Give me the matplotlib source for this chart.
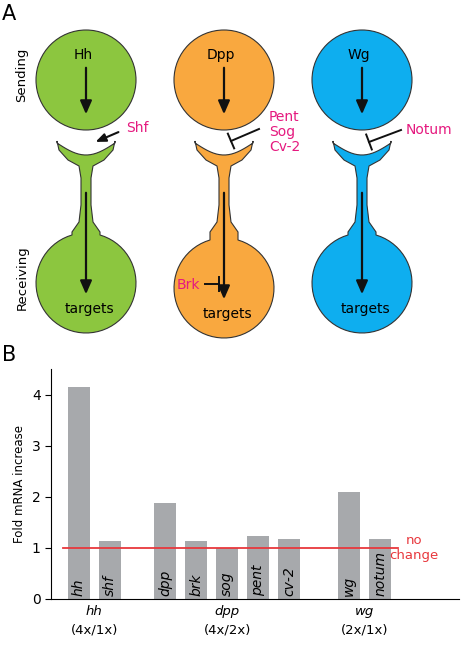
import numpy as np
import matplotlib.pyplot as plt
from matplotlib.patches import Circle, Polygon

# bar chart data
genes = ["hh", "shf", "dpp", "brk", "sog", "pent", "cv-2", "wg", "notum"]
fold = [4.14, 1.13, 1.87, 1.13, 1.0, 1.23, 1.18, 2.1, 1.17]
xpos = [0, 1, 2.8, 3.8, 4.8, 5.8, 6.8, 8.75, 9.75]
groups = ["hh\n", "dpp\n", "wg\n"]
group_dose = ["(4x/1x)", "(4x/2x)", "(2x/1x)"]
group_x = [0.5, 4.8, 9.25]

# diagram data
cells = ["Hh", "Dpp", "Wg"]
cell_x = [86, 224, 362]
bottom_y = [283, 288, 283]
colors = ["#8cc63f", "#f9a83f", "#0eaeef"]
magenta = "#e5197f"

fig = plt.figure(figsize=(4.74, 6.59), dpi=100)

# ---- panel A: drawn in pixel coordinates
ax = fig.add_axes([0, 0, 1, 1])
ax.set_xlim(0, 474)
ax.set_ylim(659, 0)
ax.axis("off")


def receiving_outline(cx, cy, r=50):
    # cup + stem + circle as one outline
    t = np.linspace(0, 1, 20)
    cup_top = np.column_stack([cx - 29 + 58 * t, 143 + 12 * np.sin(np.pi * t)])
    right = [(cx + 29, 141), (cx + 27, 150), (cx + 18, 160), (cx + 7, 166),
             (cx + 5, 178), (cx + 5, 205), (cx + 7, 222), (cx + 14, 232)]
    a0 = np.arccos(14 / r)
    ang = np.linspace(-a0, -np.pi + a0 + 2 * np.pi, 60)
    ang = np.linspace(-a0, np.pi + a0, 60)
    arc = np.column_stack([cx + r * np.cos(ang), cy - r * np.sin(ang) * -1])
    arc = np.column_stack([cx + r * np.cos(-ang + 0), cy - r * np.sin(-ang)])
    left = [(cx - 14, 232), (cx - 7, 222), (cx - 5, 205), (cx - 5, 178),
            (cx - 7, 166), (cx - 18, 160), (cx - 27, 150), (cx - 29, 141)]
    return np.vstack([cup_top[::-1][::-1], right, arc, left])


for name, cx, cy, col in zip(cells, cell_x, bottom_y, colors):
    ax.add_patch(Circle((cx, 80), 50, facecolor=col, edgecolor="#333333", lw=0.8))
    pts = receiving_outline(cx, cy)
    ax.add_patch(Polygon(pts, closed=True, facecolor=col, edgecolor="#333333", lw=0.8))
    ax.text(cx - 3, 55, name, ha="center", va="center", fontsize=10)
    ax.annotate("", xy=(cx, 117), xytext=(cx, 65),
                arrowprops=dict(arrowstyle="-|>,head_width=0.35,head_length=0.8",
                                color="#111111", lw=1.6))
    ax.annotate("", xy=(cx, cy + 14), xytext=(cx, 190),
                arrowprops=dict(arrowstyle="-|>,head_width=0.35,head_length=0.8",
                                color="#111111", lw=1.6))
    ax.text(cx + 3, cy + 26, "targets", ha="center", va="center", fontsize=10)

ax.text(22, 75, "Sending", rotation=90, ha="center", va="center", fontsize=9.5)
ax.text(22, 278, "Receiving", rotation=90, ha="center", va="center", fontsize=9.5)
ax.text(2, 14, "A", fontsize=15, va="center")
ax.text(2, 355, "B", fontsize=15, va="center")

# Shf arrow
ax.annotate("", xy=(93, 143), xytext=(121, 131),
            arrowprops=dict(arrowstyle="-|>,head_width=0.25,head_length=0.6",
                            color="#111111", lw=1.5))
ax.text(126, 128, "Shf", color=magenta, fontsize=10, va="center")

# inhibitors
for (x0, y0, x1, y1) in [(259, 129, 231, 141), (401, 130, 369, 142)]:
    ax.plot([x0, x1], [y0, y1], color="#111111", lw=1.4)
    d = np.array([x1 - x0, y1 - y0]) / np.hypot(x1 - x0, y1 - y0)
    n = np.array([-d[1], d[0]]) * 8
    ax.plot([x1 - n[0], x1 + n[0]], [y1 - n[1], y1 + n[1]], color="#111111", lw=1.4)
ax.text(269, 132, "Pent\nSog\nCv-2", color=magenta, fontsize=10, va="center",
        linespacing=1.05)
ax.text(406, 130, "Notum", color=magenta, fontsize=10, va="center")
ax.plot([205, 219], [284, 284], color="#111111", lw=1.4)
ax.plot([219, 219], [277, 291], color="#111111", lw=1.4)
ax.text(177, 285, "Brk", color=magenta, fontsize=10, va="center")

# ---- panel B
bx = fig.add_axes([51 / 474, 1 - 599 / 659, 408 / 474, 230 / 659])
bx.bar(xpos, fold, width=0.72, color="#a7a9ac")
bx.axhline(1, xmin=0.03, xmax=0.85, color="#e8383d", lw=1.3)
for x, g in zip(xpos, genes):
    bx.text(x, 0.05, g, rotation=90, ha="center", va="bottom", fontsize=10,
            style="italic")
bx.text(10.85, 1.0, "no\nchange", color="#e8383d", ha="center", va="center",
        fontsize=9.5)
bx.set_xlim(-0.9, 12.3)
bx.set_ylim(0, 4.5)
bx.set_yticks([0, 1, 2, 3, 4])
bx.set_xticks([])
bx.tick_params(axis="y", labelsize=10, length=4)
bx.set_ylabel("Fold mRNA increase", fontsize=8.5)
for s in ["top", "right"]:
    bx.spines[s].set_visible(False)
for x, g, d in zip(group_x, groups, group_dose):
    bx.text(x, -0.12, g.strip(), ha="center", va="top", fontsize=9.5,
            style="italic", transform=bx.transData)
    bx.text(x, -0.48, d, ha="center", va="top", fontsize=9.5)

fig.savefig("out.png", dpi=100)
